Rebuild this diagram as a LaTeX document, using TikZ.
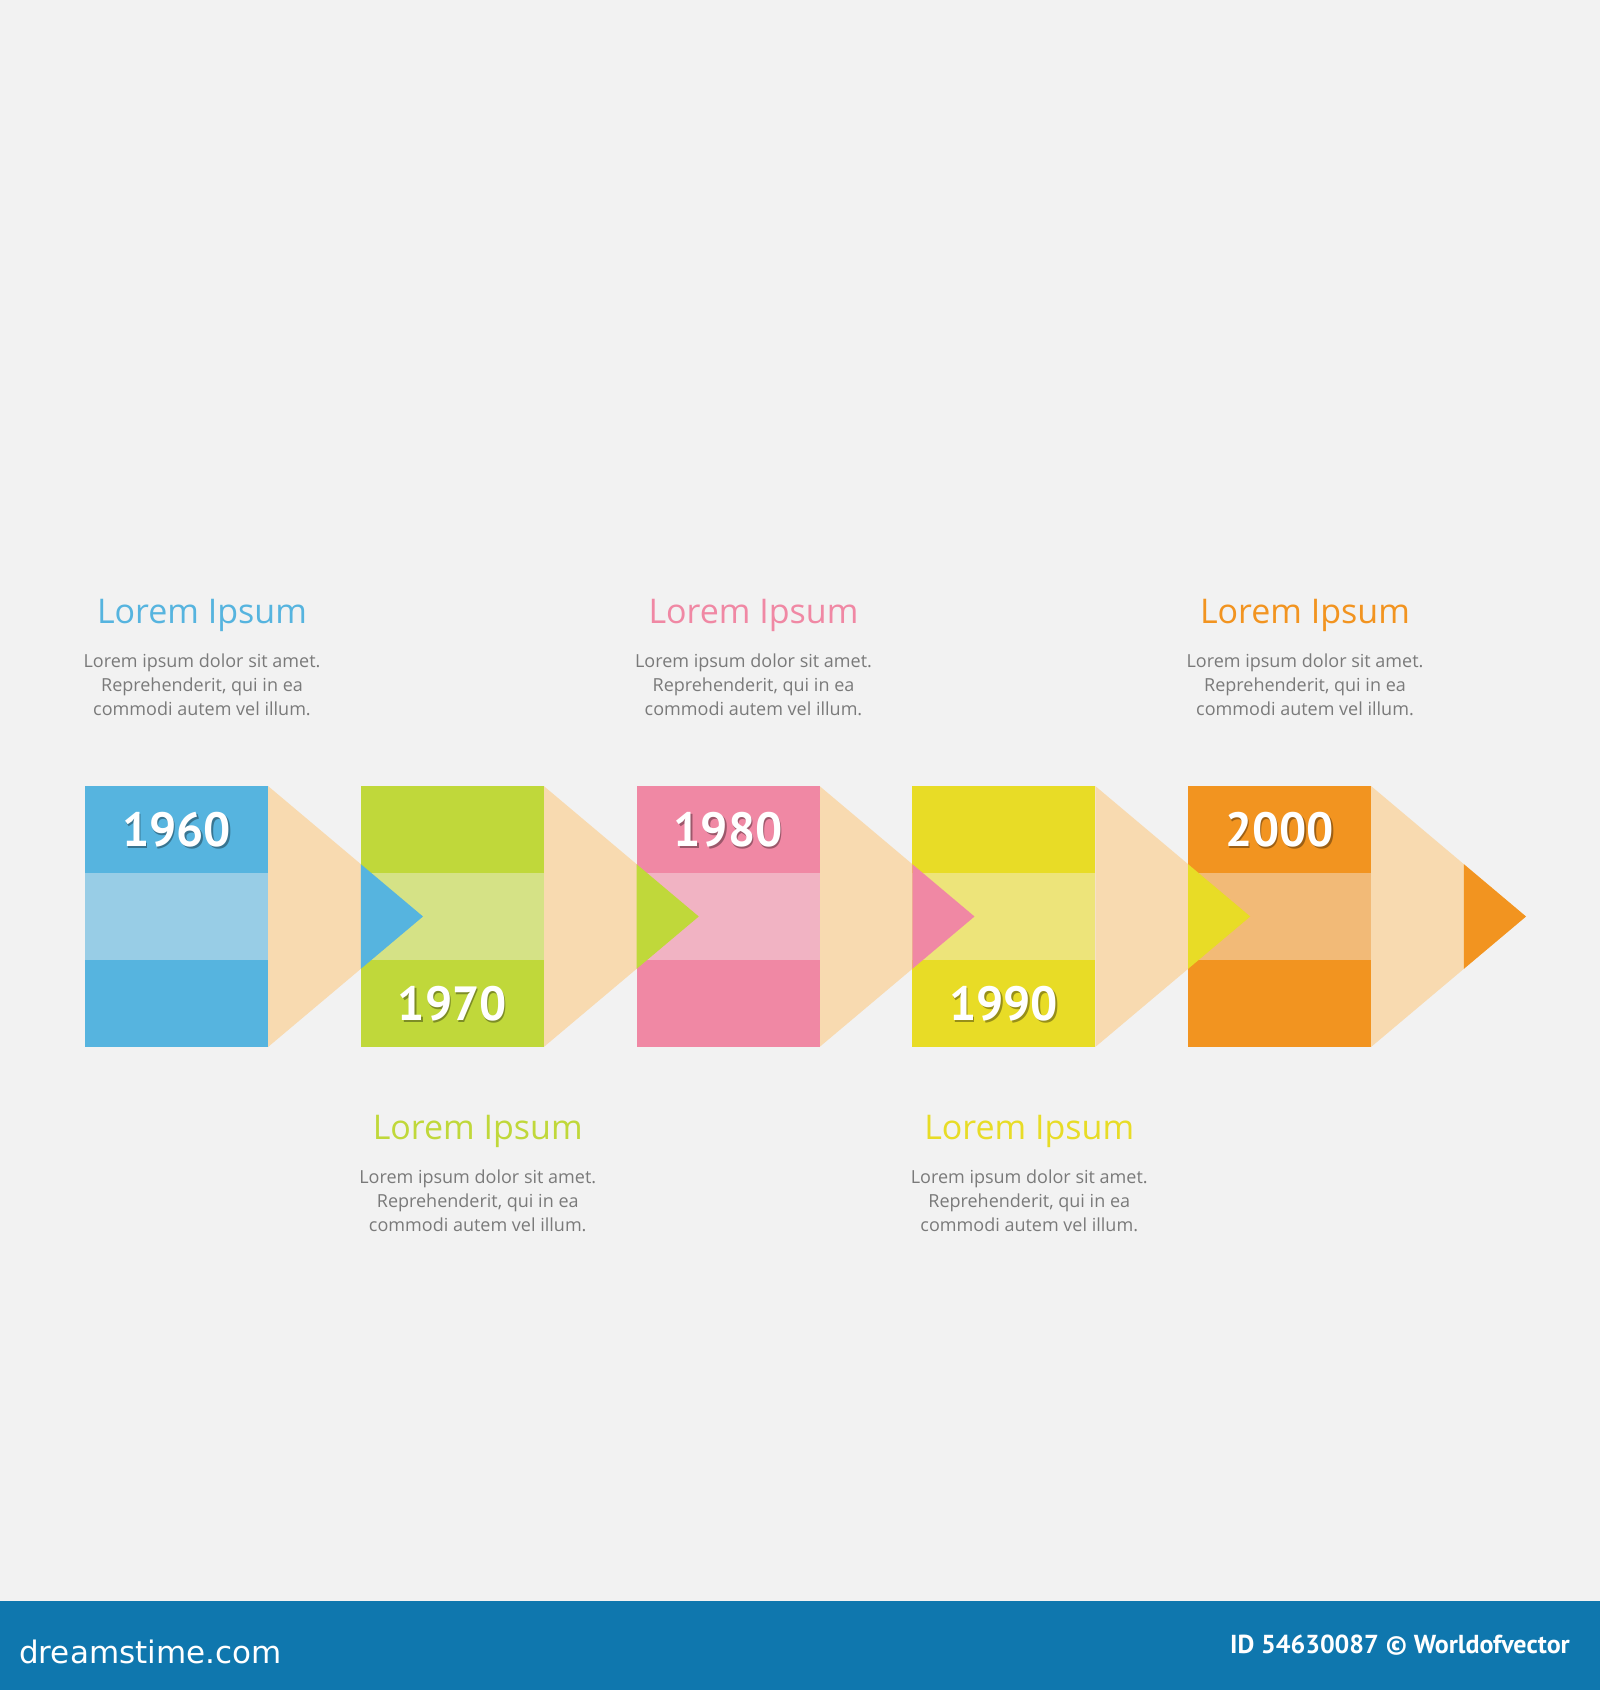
\documentclass[tikz,border=0pt]{standalone}
\usepackage{fontspec}
\setmainfont{Open Sans}
\newfontfamily\yearfont{PT Sans}
\newfontfamily\barfont{DejaVu Sans}
\definecolor{bgcol}{HTML}{F2F2F2}
\definecolor{wood}{HTML}{F8DAB0}
\definecolor{pblue}{HTML}{56B4DF}
\definecolor{pgreen}{HTML}{C0D83A}
\definecolor{ppink}{HTML}{F088A4}
\definecolor{pyellow}{HTML}{E8DC26}
\definecolor{porange}{HTML}{F29420}
\definecolor{bodygray}{HTML}{7A7A7A}
\definecolor{bandgray}{HTML}{F4F0F0}
\definecolor{barblue}{HTML}{0F77AE}
\tikzstyle{band}=[fill=bandgray,fill opacity=0.42]
\tikzstyle{yeartext}=[text=white,inner sep=0pt,
                      font=\yearfont\bfseries\fontsize{48}{48}\selectfont]
\tikzstyle{titletext}=[inner sep=0pt,font=\fontsize{34}{40}\selectfont]
\tikzstyle{bodytext}=[inner sep=0pt,align=center,text=bodygray,
                      font=\fontsize{18}{24}\selectfont]

\begin{document}
\begin{tikzpicture}[x=1pt,y=-1pt]
    \newcommand{\gap}{275.75}
    \fill[bgcol] (0,0) rectangle (1600,1690);
    \useasboundingbox (0,0) rectangle (1600,1690);
    % wood, body and light band of each pencil
    \foreach \i/\col in {0/pblue,1/pgreen,2/ppink,3/pyellow,4/porange}{
      \pgfmathsetmacro{\xl}{85+\gap*\i}
      \fill[wood] (\xl+183,786) -- (\xl+338,916.5) -- (\xl+183,1047) -- cycle;
      \fill[\col] (\xl,786) rectangle (\xl+183,1047);
      \fill[band] (\xl,873) rectangle (\xl+183,960);
    }
    % leads on top
    \foreach \i/\col in {0/pblue,1/pgreen,2/ppink,3/pyellow,4/porange}{
      \pgfmathsetmacro{\xl}{85+\gap*\i}
      \fill[\col] (\xl+275.75,864.1) -- (\xl+338,916.5) -- (\xl+275.75,968.9) -- cycle;
    }
    % years and texts
    \foreach \i/\col/\yr/\ty/\ly in {0/pblue/1960/829.5/615,1/pgreen/1970/1003.5/1131,
        2/ppink/1980/829.5/615,3/pyellow/1990/1003.5/1131,4/porange/2000/829.5/615}{
      \pgfmathsetmacro{\xc}{176.5+\gap*\i}
      \node (sh\i) at (\xc+1.5,\ty+2) [yeartext,text=\col!65!black]{\yr};
      \node (yr\i) at (\xc,\ty) [yeartext]{\yr};
      \node (ttl\i) at (\xc+25.5,\ly) [titletext,text=\col]{Lorem Ipsum};
      \node (txt\i) at (\xc+25.5,\ly+70) [bodytext]{Lorem ipsum dolor sit amet.\\
        Reprehenderit, qui in ea\\ commodi autem vel illum.};
    }
    % bottom bar
    \fill[barblue] (0,1601) rectangle (1600,1690);
    \node (site) at (19,1652) [anchor=west,text=white,inner sep=0pt,
        font=\barfont\fontsize{31}{31}\selectfont]{dreamstime.com};
    \node (imgid) at (1570,1645) [anchor=east,text=white,inner sep=0pt,
        font=\yearfont\bfseries\fontsize{26}{26}\selectfont]{ID 54630087 © Worldofvector};
\end{tikzpicture}
\end{document}
